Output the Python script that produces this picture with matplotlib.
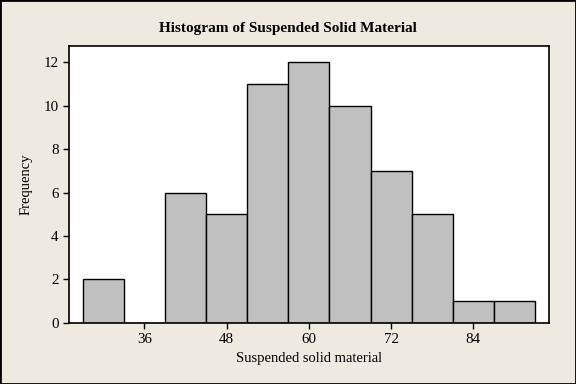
import matplotlib
matplotlib.use("Agg")
import matplotlib.pyplot as plt
import numpy as np

# histogram bins (width 6) and counts
bin_edges = [27, 33, 39, 45, 51, 57, 63, 69, 75, 81, 87, 93]
counts = [2, 0, 6, 5, 11, 12, 10, 7, 5, 1, 1]
x_ticks = [36, 48, 60, 72, 84]
y_ticks = [0, 2, 4, 6, 8, 10, 12]

plt.rcParams["font.family"] = ["Liberation Serif", "DejaVu Serif"]

bg = "#EEEAE0"
fig = plt.figure(figsize=(5.76, 3.84), dpi=100, facecolor=bg)
fig.patches.append(plt.Rectangle((0, 0), 1, 1, transform=fig.transFigure,
                                 fill=False, edgecolor="black", linewidth=2))
ax = fig.add_axes([0.1198, 0.1589, 0.8328, 0.7214])

edges = np.array(bin_edges, dtype=float)
centers = (edges[:-1] + edges[1:]) / 2
ax.hist(centers, bins=edges, weights=counts, color="#C0C0C0",
        edgecolor="black", linewidth=1.0)

ax.set_xlim(25, 95)
ax.set_ylim(0, 12.74)
ax.set_xticks(x_ticks)
ax.set_yticks(y_ticks)
ax.tick_params(direction="out", length=4, width=1, labelsize=10.8, colors="black")
for s in ax.spines.values():
    s.set_linewidth(1.2)

ax.set_xlabel("Suspended solid material", fontsize=10.5, labelpad=4)
ax.set_ylabel("Frequency", fontsize=10.5, labelpad=8)
fig.text(0.5, 0.925, "Histogram of Suspended Solid Material", ha="center",
         va="center", fontsize=11, fontweight="bold")

fig.savefig("out.png", dpi=100, facecolor=bg)
